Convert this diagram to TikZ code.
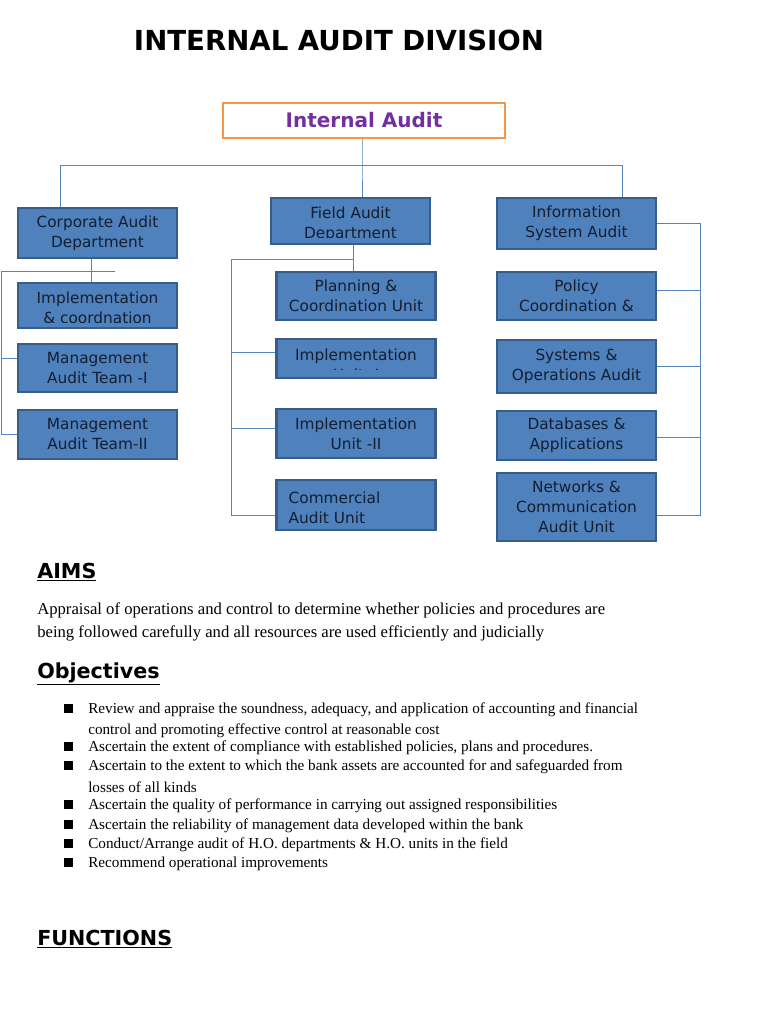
\documentclass[tikz,border=0pt]{standalone}
\usepackage{fontspec}
\setmainfont{Liberation Serif}
\setsansfont{DejaVu Sans}
\usepackage{xcolor}
\definecolor{boxblue}{HTML}{4F81BD}
\definecolor{boxedge}{HTML}{385D8A}
\definecolor{wireblue}{HTML}{5585C0}
\definecolor{headorange}{HTML}{F79646}
\definecolor{headpurple}{HTML}{7030A0}
\definecolor{boxink}{HTML}{141E30}
\newcommand{\boxfont}{\sffamily\fontsize{11.5}{15}\selectfont}

\begin{document}
\begin{tikzpicture}[x=0.75pt, y=-0.75pt,
    unitbox/.style={draw=boxedge, fill=boxblue, line width=1.8pt, minimum width=119pt,
        inner sep=0pt, align=center, text=boxink, font=\boxfont,
        execute at begin node={\rule{0pt}{13.5pt}}},
    clipunit/.style n args={4}{unitbox, path picture={
        \clip ([yshift=#1]path picture bounding box.south west) rectangle (path picture bounding box.north east);
        \node[draw=none, fill=none, inner sep=0pt, align=center, text=boxink, font=\boxfont]
            at ([yshift=#2]path picture bounding box.center) {#3\\#4};}},
    wire/.style={draw=wireblue, line width=0.75pt},
    sectionhead/.style={anchor=base west, inner sep=0pt, font=\sffamily\bfseries\fontsize{15.5}{18}\selectfont},
    bodytext/.style={anchor=base west, inner sep=0pt, font=\fontsize{12.5}{15}\selectfont},
    listtext/.style={anchor=base west, inner sep=0pt, font=\fontsize{11.4}{13}\selectfont},
    bulletmark/.style={fill=black, inner sep=0pt, minimum size=6.5pt}]
    \useasboundingbox (0,0) rectangle (768,1024);

    % title and head box
    \node[inner sep=0pt, anchor=base, font=\sffamily\bfseries\fontsize{20.7}{24}\selectfont] (title) at (339,51) {INTERNAL AUDIT DIVISION};
    \node[draw=headorange, line width=1.8pt, minimum width=211.5pt, minimum height=26pt, inner sep=0pt,
        text=headpurple, font=\sffamily\bfseries\fontsize{15}{18}\selectfont] (head) at (364,120.5) {Internal Audit};

    % departments
    \node[unitbox, minimum height=37.5pt] (corp) at (97.5,233) {Corporate Audit\\Department};
    \node[clipunit={5pt}{-2.25pt}{Field Audit}{Department}, minimum height=34.5pt] (field) at (350.5,221) {};
    \node[unitbox, minimum height=38pt] (isa) at (576.5,223.5) {Information\\System Audit};

    % corporate audit units
    \node[clipunit={4pt}{-2pt}{Implementation}{\& coordnation}, minimum height=34pt] (impl) at (97.5,305.5) {};
    \node[unitbox, minimum height=36pt] (mat1) at (97.5,368) {Management\\Audit Team -I};
    \node[unitbox, minimum height=37pt] (mat2) at (97.5,434.5) {Management\\Audit Team-II};

    % field audit units
    \node[unitbox, minimum height=36pt] (plan) at (356,296) {Planning \&\\Coordination Unit};
    \node[clipunit={6.2pt}{-5pt}{Implementation}{Unit -I}, minimum height=29pt] (imp1) at (356,358.5) {};
    \node[unitbox, minimum height=37pt] (imp2) at (356,433.5) {Implementation\\Unit -II};
    \node[unitbox, minimum height=37.5pt, align=left, text width=101pt] (comm) at (356,505) {Commercial\\Audit Unit};

    % information system audit units
    \node[unitbox, minimum height=36pt] (policy) at (576.5,296) {Policy\\Coordination \&};
    \node[unitbox, minimum height=40pt] (sysop) at (576.5,366.5) {Systems \&\\Operations Audit};
    \node[unitbox, minimum height=37pt] (dbapp) at (576.5,435.5) {Databases \&\\Applications};
    \node[unitbox, minimum height=51pt] (netw) at (576.5,507) {Networks \&\\Communication\\Audit Unit};

    % connectors
    \coordinate (bus) at (362,165);
    \coordinate (busL) at (60,165);
    \coordinate (busR) at (622,165);
    \draw[wire] (bus |- head.south) -- (bus) -- (bus |- field.north);
    \draw[wire] (busL |- corp.north) -- (busL) -- (busR) -- (busR |- isa.north);

    \coordinate (corpdrop) at (91,271);
    \coordinate (lbusL) at (1,271);
    \coordinate (lbusR) at (115,271);
    \draw[wire] (corpdrop |- corp.south) -- (corpdrop |- impl.north);
    \draw[wire] (lbusR) -- (lbusL) -- (lbusL |- mat2.west) -- (mat2.west);
    \draw[wire] ([yshift=7.5pt]mat1.west -| lbusL) -- ([yshift=7.5pt]mat1.west);

    \coordinate (fbus) at (231,259);
    \draw[wire] ([xshift=2pt]field.south) -- ([xshift=2pt]field.south |- plan.north);
    \draw[wire] ([xshift=2pt]field.south |- fbus) -- (fbus) -- ([yshift=-7.5pt]comm.west -| fbus) -- ([yshift=-7.5pt]comm.west);
    \draw[wire] ([yshift=4.5pt]imp1.west -| fbus) -- ([yshift=4.5pt]imp1.west);
    \draw[wire] ([yshift=4pt]imp2.west -| fbus) -- ([yshift=4pt]imp2.west);

    \coordinate (rbus) at (700,223);
    \draw[wire] (isa.east) -- (isa.east -| rbus) -- ([yshift=-6pt]netw.east -| rbus) -- ([yshift=-6pt]netw.east);
    \draw[wire] ([yshift=4.5pt]policy.east) -- ([yshift=4.5pt]policy.east -| rbus);
    \draw[wire] (sysop.east) -- (sysop.east -| rbus);
    \draw[wire] ([yshift=-1.5pt]dbapp.east) -- ([yshift=-1.5pt]dbapp.east -| rbus);

    % text sections
    \node[sectionhead] (aims) at (37,578) {\underline{AIMS}};
    \node[bodytext] (aimsA) at (37,614) {Appraisal of operations and control to determine whether policies and procedures are};
    \node[bodytext] (aimsB) at (37,637) {being followed carefully and all resources are used efficiently and judicially};

    \node[sectionhead] (objectives) at (37,678) {\underline{Objectives}};
    \foreach \y in {713,751,770,809,829,848,867}
        \node[bulletmark] at (68.5,\y-4.5) {};
    \foreach \y/\txt in {713/{Review and appraise the soundness, adequacy, and application of accounting and financial},
        734/{control and promoting effective control at reasonable cost},
        751/{Ascertain the extent of compliance with established policies, plans and procedures.},
        770/{Ascertain to the extent to which the bank assets are accounted for and safeguarded from},
        792/{losses of all kinds},
        809/{Ascertain the quality of performance in carrying out assigned responsibilities},
        829/{Ascertain the reliability of management data developed within the bank},
        848/{Conduct/Arrange audit of H.O. departments \& H.O. units in the field},
        867/{Recommend operational improvements}}
        \node[listtext] at (88,\y) {\txt};

    \node[sectionhead] (functions) at (37,945) {\underline{FUNCTIONS}};
\end{tikzpicture}
\end{document}
